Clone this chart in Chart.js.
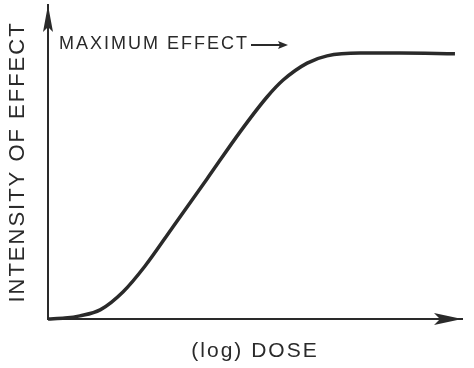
<!DOCTYPE html>
<html>
<head>
<meta charset="utf-8">
<script src="https://cdn.jsdelivr.net/npm/chart.js@4.4.1/dist/chart.umd.min.js"></script>
<style>
  html, body { margin: 0; padding: 0; background: #fff; }
  #wrap { width: 474px; height: 368px; }
</style>
</head>
<body>
<div id="wrap"><canvas id="doseChart"></canvas></div>
<script>
// Dose-response curve (0-100 on both axes)
const doseX = [0, 4.1, 7.7, 12.6, 18.1, 23.4, 30, 38.4, 46.4, 52.9, 56.8, 62.6, 67.4, 75.4, 85, 98.3];
const effectY = [0, 0.3, 1.0, 2.9, 8.6, 16.8, 29, 44.6, 59.6, 70.7, 76.1, 81.5, 83.8, 84.7, 84.7, 84.5];

const xTitle = "(log) DOSE";
const yTitle = "INTENSITY OF EFFECT";
const maxLabel = "MAXIMUM EFFECT";

const ink = "#2a2a2a";
const fontFamily = "'Liberation Sans', Arial, sans-serif";

// arrowheads on the axes + the "maximum effect" note
const axisArrows = {
    id: "axisArrows",
    beforeDraw(chart) {
        chart.ctx.letterSpacing = "2px";
    },
    afterDraw(chart) {
        const { ctx, chartArea } = chart;
        const { left, right, top, bottom } = chartArea;
        ctx.save();
        ctx.fillStyle = ink;
        ctx.strokeStyle = ink;

        // y axis head
        ctx.beginPath();
        ctx.moveTo(left, top);
        ctx.lineTo(left - 5, top + 27);
        ctx.lineTo(left, top + 22);
        ctx.lineTo(left + 5, top + 27);
        ctx.closePath();
        ctx.fill();

        // x axis head
        ctx.beginPath();
        ctx.moveTo(right, bottom);
        ctx.lineTo(right - 28, bottom - 6);
        ctx.lineTo(right - 22, bottom);
        ctx.lineTo(right - 28, bottom + 6);
        ctx.closePath();
        ctx.fill();

        // label with its small arrow
        ctx.letterSpacing = "2px";
        ctx.font = "18px " + fontFamily;
        ctx.textBaseline = "middle";
        ctx.textAlign = "left";
        ctx.fillText(maxLabel, 59, 44);
        ctx.lineWidth = 2;
        ctx.beginPath();
        ctx.moveTo(251, 45);
        ctx.lineTo(282, 45);
        ctx.stroke();
        ctx.beginPath();
        ctx.moveTo(288, 45);
        ctx.lineTo(278, 41);
        ctx.lineTo(280, 45);
        ctx.lineTo(278, 49);
        ctx.closePath();
        ctx.fill();
        ctx.restore();
        ctx.letterSpacing = "0px";
    }
};

const points = doseX.map((x, i) => ({ x, y: effectY[i] }));

new Chart(document.getElementById("doseChart"), {
    type: "scatter",
    data: {
        datasets: [{
            data: points,
            showLine: true,
            borderColor: ink,
            borderWidth: 3.5,
            pointRadius: 0,
            cubicInterpolationMode: "monotone",
            clip: false
        }]
    },
    options: {
        responsive: true,
        maintainAspectRatio: false,
        animation: false,
        layout: { padding: { top: 5, right: 12, left: 0, bottom: 0 } },
        plugins: {
            legend: { display: false },
            tooltip: { enabled: false }
        },
        scales: {
            x: {
                type: "linear",
                min: 0,
                max: 100,
                grid: { display: false, drawTicks: false },
                ticks: { display: false },
                border: { display: true, color: ink, width: 2 },
                title: {
                    display: true,
                    text: xTitle,
                    color: ink,
                    font: { family: fontFamily, size: 21 },
                    padding: { top: 20, bottom: 3.8 }
                }
            },
            y: {
                type: "linear",
                min: 0,
                max: 100,
                grid: { display: false, drawTicks: false },
                ticks: { display: false },
                border: { display: true, color: ink, width: 2 },
                title: {
                    display: true,
                    text: yTitle,
                    color: ink,
                    font: { family: fontFamily, size: 22 },
                    padding: { top: 5, bottom: 16.6 }
                }
            }
        }
    },
    plugins: [axisArrows]
});
</script>
</body>
</html>
